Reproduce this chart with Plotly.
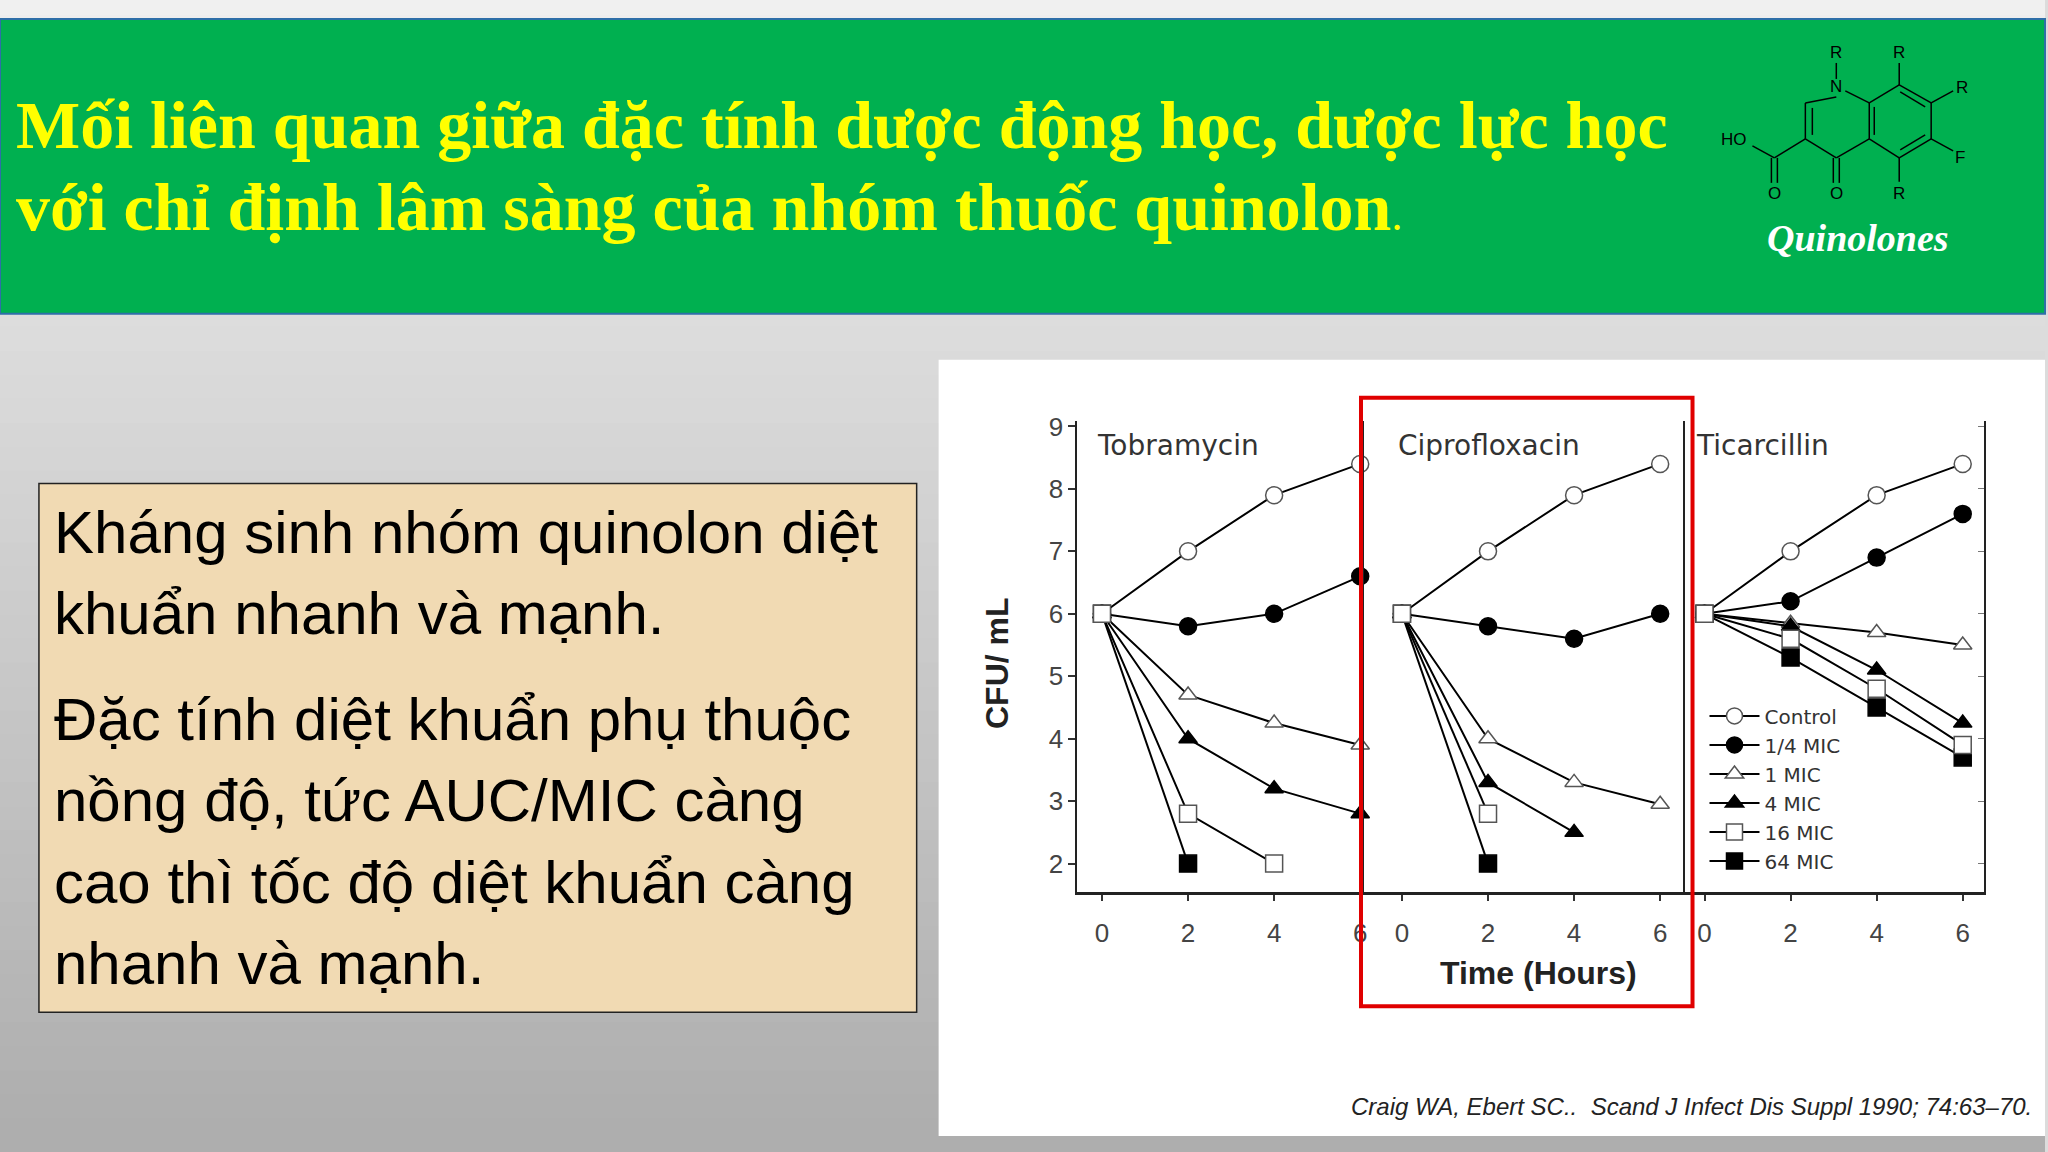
import plotly.graph_objects as go

W, H = 2048, 1152

# time points (hours) and series
hours = [0, 2, 4, 6]
series_names = ["Control", "1/4 MIC", "1 MIC", "4 MIC", "16 MIC", "64 MIC"]
drug_names = ["Tobramycin", "Ciprofloxacin", "Ticarcillin"]

# log10 CFU/mL
tobra_control = [6.0, 7.0, 7.9, 8.4]
tobra_quarter = [6.0, 5.8, 6.0, 6.6]
tobra_1mic = [6.0, 4.7, 4.25, 3.9]
tobra_4mic = [6.0, 4.0, 3.2, 2.8]
tobra_16mic = [6.0, 2.8, 2.0]
tobra_64mic = [6.0, 2.0]

cipro_control = [6.0, 7.0, 7.9, 8.4]
cipro_quarter = [6.0, 5.8, 5.6, 6.0]
cipro_1mic = [6.0, 4.0, 3.3, 2.95]
cipro_4mic = [6.0, 3.3, 2.5]
cipro_16mic = [6.0, 2.8]
cipro_64mic = [6.0, 2.0]

ticar_control = [6.0, 7.0, 7.9, 8.4]
ticar_quarter = [6.0, 6.2, 6.9, 7.6]
ticar_1mic = [6.0, 5.85, 5.7, 5.5]
ticar_4mic = [6.0, 5.8, 5.1, 4.25]
ticar_16mic = [6.0, 5.6, 4.8, 3.9]
ticar_64mic = [6.0, 5.3, 4.5, 3.7]

y_ticks = [2, 3, 4, 5, 6, 7, 8, 9]
x_ticks = [0, 2, 4, 6]

title_lines = ["<b>Mối liên quan giữa đặc tính dược động học, dược lực học</b>",
               "<b>với chỉ định lâm sàng của nhóm thuốc quinolon</b><span style='font-size:44px'>.</span>"]
box_lines = ["Kháng sinh nhóm quinolon diệt",
             "khuẩn nhanh và mạnh.",
             "Đặc tính diệt khuẩn phụ thuộc",
             "nồng độ, tức AUC/MIC càng",
             "cao thì tốc độ diệt khuẩn càng",
             "nhanh và mạnh."]
citation = "Craig WA, Ebert SC..  Scand J Infect Dis Suppl 1990; 74:63–70."


def px(x):
    return x / W


def py(y):
    # small vertical correction for how the page lands in the screenshot
    return 1 - ((y - 8) / 0.993) / H


drug_data = [
    [tobra_control, tobra_quarter, tobra_1mic, tobra_4mic, tobra_16mic, tobra_64mic],
    [cipro_control, cipro_quarter, cipro_1mic, cipro_4mic, cipro_16mic, cipro_64mic],
    [ticar_control, ticar_quarter, ticar_1mic, ticar_4mic, ticar_16mic, ticar_64mic],
]

# marker style per series: (symbol, fill, outline)
marker_styles = [
    ("circle", "white", "#555"),
    ("circle", "black", "black"),
    ("triangle-up", "white", "#555"),
    ("triangle-up", "black", "black"),
    ("square", "white", "#555"),
    ("square", "black", "black"),
]
# draw 64 MIC before 16 MIC so the open square sits on top at t=0
draw_order = [0, 1, 2, 3, 5, 4]

fig = go.Figure()

for d in range(3):
    xa = "x" if d == 0 else f"x{d + 1}"
    ya = "y" if d == 0 else f"y{d + 1}"
    for s in draw_order:
        vals = drug_data[d][s]
        sym, fill, outline = marker_styles[s]
        fig.add_trace(go.Scatter(
            x=hours[:len(vals)],
            y=vals,
            mode="lines+markers",
            name=series_names[s],
            legendrank=s + 1,
            showlegend=(d == 0),
            line=dict(color="black", width=2),
            marker=dict(symbol=sym, size=17 if sym != "triangle-up" else 16,
                        color=fill, line=dict(color=outline, width=1.5)),
            xaxis=xa,
            yaxis=ya,
            cliponaxis=False,
        ))

# panel geometry (pixels)
panel_px = [(1079, 1366), (1366, 1685), (1685, 1987)]
zero_px = [1103.6, 1404.0, 1707.0]
px_per_hour = 43.1
y_top, y_bot = 420, 892
y_range = [2 - (y_bot - 863.3) / 62.5, 2 + (863.3 - y_top) / 62.5]

tick_font = dict(family="Liberation Sans", size=26, color="#444")
for d in range(3):
    x0, x1 = panel_px[d]
    rng = [(x0 - zero_px[d]) / px_per_hour, (x1 - zero_px[d]) / px_per_hour]
    key = "xaxis" if d == 0 else f"xaxis{d + 1}"
    fig.layout[key] = dict(
        domain=[px(x0), px(x1)], range=rng, anchor="y" if d == 0 else f"y{d + 1}",
        tickvals=x_ticks, ticks="outside", ticklen=6, tickwidth=1.5, tickcolor="#333",
        showline=True, linewidth=3, linecolor="#222", showgrid=False, zeroline=False,
        tickfont=tick_font, ticklabelstandoff=10,
    )

fig.update_layout(
    yaxis=dict(domain=[py(y_bot), py(y_top)], range=y_range, anchor="x",
               tickvals=y_ticks, ticks="outside", ticklen=7, tickwidth=1.5, tickcolor="#333",
               showline=True, linewidth=2, linecolor="#222", showgrid=False, zeroline=False,
               tickfont=tick_font),
    yaxis2=dict(domain=[py(y_bot), py(y_top)], range=y_range, anchor="x2",
                showticklabels=False, ticks="", showline=True, mirror=True,
                linewidth=2, linecolor="#222", showgrid=False, zeroline=False),
    yaxis3=dict(domain=[py(y_bot), py(y_top)], range=y_range, anchor="x3", side="right",
                tickvals=y_ticks, showticklabels=False, ticks="inside", ticklen=6,
                tickcolor="#777", showline=True, linewidth=2, linecolor="#222",
                showgrid=False, zeroline=False),
)

shapes = []

# slide background gradient
n_bands = 48
for i in range(n_bands):
    t = i / (n_bands - 1)
    c = int(240 - t * 66)
    shapes.append(dict(type="rect", xref="paper", yref="paper", layer="below",
                       x0=0, x1=1, y0=py(H * (i + 1) / n_bands + 1), y1=py(H * i / n_bands - 10),
                       fillcolor=f"rgb({c},{c},{c})", line=dict(width=0)))

# green banner
shapes.append(dict(type="rect", xref="paper", yref="paper", layer="below",
                   x0=0, x1=1, y0=py(313), y1=py(18),
                   fillcolor="#00b050", line=dict(color="#2e6fa8", width=2)))
# white chart panel
shapes.append(dict(type="rect", xref="paper", yref="paper", layer="below",
                   x0=px(940), x1=1, y0=py(1136), y1=py(359),
                   fillcolor="white", line=dict(width=0)))
# tan text box
shapes.append(dict(type="rect", xref="paper", yref="paper", layer="below",
                   x0=px(39), x1=px(918), y0=py(1012), y1=py(483),
                   fillcolor="#f1dab3", line=dict(color="#222", width=1.5)))
# red highlight box
shapes.append(dict(type="rect", xref="paper", yref="paper", layer="above",
                   x0=px(1363), x1=px(1695), y0=py(1006), y1=py(397),
                   fillcolor="rgba(0,0,0,0)", line=dict(color="#e00000", width=4)))

# quinolone skeleton
bonds = [
    ((1839, 96), (1808, 102)), ((1808, 102), (1808, 138)), ((1808, 138), (1839, 157)),
    ((1839, 157), (1872, 138)), ((1872, 138), (1872, 102)), ((1872, 102), (1848, 90)),
    ((1872, 102), (1902, 84)), ((1902, 84), (1934, 102)), ((1934, 102), (1934, 138)),
    ((1934, 138), (1902, 157)), ((1902, 157), (1872, 138)),
    ((1815, 107), (1815, 134)), ((1877, 106), (1877, 134)),
    ((1903, 91), (1928, 106)), ((1928, 134), (1903, 149)),
    ((1839, 78), (1839, 62)), ((1902, 84), (1902, 62)), ((1934, 102), (1956, 90)),
    ((1934, 138), (1956, 150)), ((1902, 157), (1902, 181)),
    ((1836, 157), (1836, 182)), ((1842, 157), (1842, 182)),
    ((1808, 138), (1777, 157)), ((1774, 157), (1774, 182)), ((1780, 157), (1780, 182)),
    ((1777, 157), (1755, 145)),
]
for (a, b) in bonds:
    shapes.append(dict(type="line", xref="paper", yref="paper", layer="above",
                       x0=px(a[0]), y0=py(a[1]), x1=px(b[0]), y1=py(b[1]),
                       line=dict(color="black", width=1.5)))

annotations = []
atom_labels = [("N", 1839, 86), ("R", 1839, 52), ("R", 1902, 52), ("R", 1965, 87),
               ("F", 1963, 157), ("R", 1902, 193), ("O", 1839, 193), ("O", 1777, 193),
               ("HO", 1737, 139)]
for (txt, x, y) in atom_labels:
    annotations.append(dict(text=txt, x=px(x), y=py(y), xref="paper", yref="paper",
                            showarrow=False, xanchor="center", yanchor="middle",
                            font=dict(family="Liberation Sans", size=17, color="black")))
annotations.append(dict(text="<b><i>Quinolones</i></b>", x=px(1861), y=py(237),
                        xref="paper", yref="paper", showarrow=False,
                        xanchor="center", yanchor="middle",
                        font=dict(family="Liberation Serif", size=38, color="white")))

# banner title
for txt, yc in zip(title_lines, [124, 206]):
    annotations.append(dict(text=txt, x=px(14), y=py(yc), xref="paper", yref="paper",
                            showarrow=False, xanchor="left", yanchor="middle",
                            font=dict(family="Liberation Serif", size=68, color="#ffff00")))

# text box lines
for txt, yb in zip(box_lines, [555, 636, 742, 823, 905, 986]):
    annotations.append(dict(text=txt, x=px(52), y=py(yb - 23), xref="paper", yref="paper",
                            showarrow=False, xanchor="left", yanchor="middle",
                            font=dict(family="Liberation Sans", size=60, color="black")))

# panel labels
for d, xl in enumerate([1097, 1398, 1696]):
    annotations.append(dict(text=drug_names[d], x=px(xl), y=py(445), xref="paper", yref="paper",
                            showarrow=False, xanchor="left", yanchor="middle",
                            font=dict(family="DejaVu Sans", size=28, color="#333")))

annotations.append(dict(text="<b>CFU/ mL</b>", x=px(999), y=py(663), xref="paper", yref="paper",
                        showarrow=False, textangle=-90, xanchor="center", yanchor="middle",
                        font=dict(family="Liberation Sans", size=32, color="#222")))
annotations.append(dict(text="<b>Time (Hours)</b>", x=px(1541), y=py(973), xref="paper", yref="paper",
                        showarrow=False, xanchor="center", yanchor="middle",
                        font=dict(family="Liberation Sans", size=32, color="#222")))
annotations.append(dict(text=f"<i>{citation}</i>", x=px(2037), y=py(1106), xref="paper", yref="paper",
                        showarrow=False, xanchor="right", yanchor="middle",
                        font=dict(family="Liberation Sans", size=24, color="#222")))

fig.update_layout(
    width=W, height=H, autosize=False,
    margin=dict(l=0, r=0, t=0, b=0),
    paper_bgcolor="#dcdcdc",
    plot_bgcolor="rgba(0,0,0,0)",
    shapes=shapes,
    annotations=annotations,
    legend=dict(x=px(1707), y=py(696), xanchor="left", yanchor="top",
                bgcolor="rgba(0,0,0,0)", tracegroupgap=0, itemwidth=50,
                font=dict(family="DejaVu Sans", size=20, color="#333")),
)

fig.write_html("out.html", config={"displayModeBar": False},
               post_script="document.documentElement.style.margin='0';"
                           "document.body.style.margin='0';document.body.style.padding='0';"
                           "document.body.style.overflow='hidden';")
